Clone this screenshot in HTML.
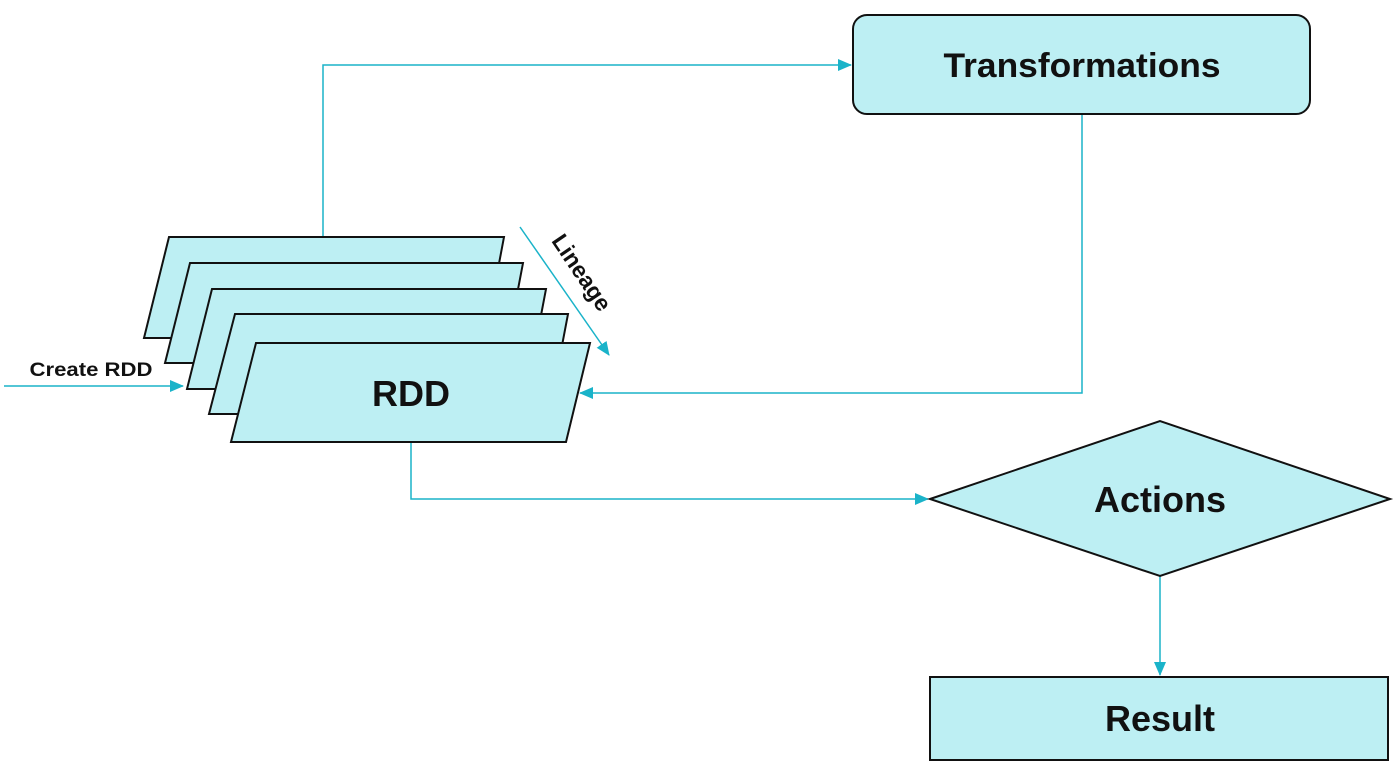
<!DOCTYPE html>
<html><head><meta charset="utf-8"><style>html,body{margin:0;padding:0;background:#fff;width:1400px;height:772px;overflow:hidden}</style></head>
<body>
<svg width="1400" height="772" viewBox="0 0 1400 772" xmlns="http://www.w3.org/2000/svg">
<defs>
<marker id="a" markerWidth="14" markerHeight="12" refX="13" refY="6" orient="auto" markerUnits="userSpaceOnUse">
<path d="M0,0 L14,6 L0,12 Z" fill="#1ab3c9"/></marker>
</defs>
<g stroke="#1ab3c9" stroke-width="1.5" fill="none">
<polyline points="323,237 323,65 851,65" marker-end="url(#a)"/>
<polyline points="1082,114 1082,393 580,393" marker-end="url(#a)"/>
<polyline points="411,442 411,499 928,499" marker-end="url(#a)"/>
<line x1="1160" y1="576" x2="1160" y2="675" marker-end="url(#a)"/>
<line x1="4" y1="386" x2="183" y2="386" marker-end="url(#a)"/>
<line x1="520" y1="227" x2="609" y2="355" marker-end="url(#a)"/>
</g>
<g fill="#bdeff3" stroke="#111" stroke-width="2">
<polygon points="169,237 504,237 485,338 144,338"/>
<polygon points="190,263 523,263 504,363 165,363"/>
<polygon points="212,289 546,289 527,389 187,389"/>
<polygon points="235,314 568,314 549,414 209,414"/>
<polygon points="256,343 590,343 566,442 231,442"/>
<rect x="853" y="15" width="457" height="99" rx="14"/>
<polygon points="930,499 1160,421 1390,499 1160,576"/>
<rect x="930" y="677" width="458" height="83"/>
</g>
<g font-family="Liberation Sans, DejaVu Sans, sans-serif" font-weight="bold" fill="#111" text-anchor="middle">
<text x="1082" y="77" font-size="34" textLength="277" lengthAdjust="spacingAndGlyphs">Transformations</text>
<text x="411" y="406" font-size="36">RDD</text>
<text x="1160" y="512" font-size="36">Actions</text>
<text x="1160" y="731" font-size="36">Result</text>
<text x="91" y="376" font-size="19" textLength="123" lengthAdjust="spacingAndGlyphs">Create RDD</text>
<text x="581" y="280" font-size="23" transform="rotate(56 581 273)">Lineage</text>
</g>
</svg>
</body></html>
